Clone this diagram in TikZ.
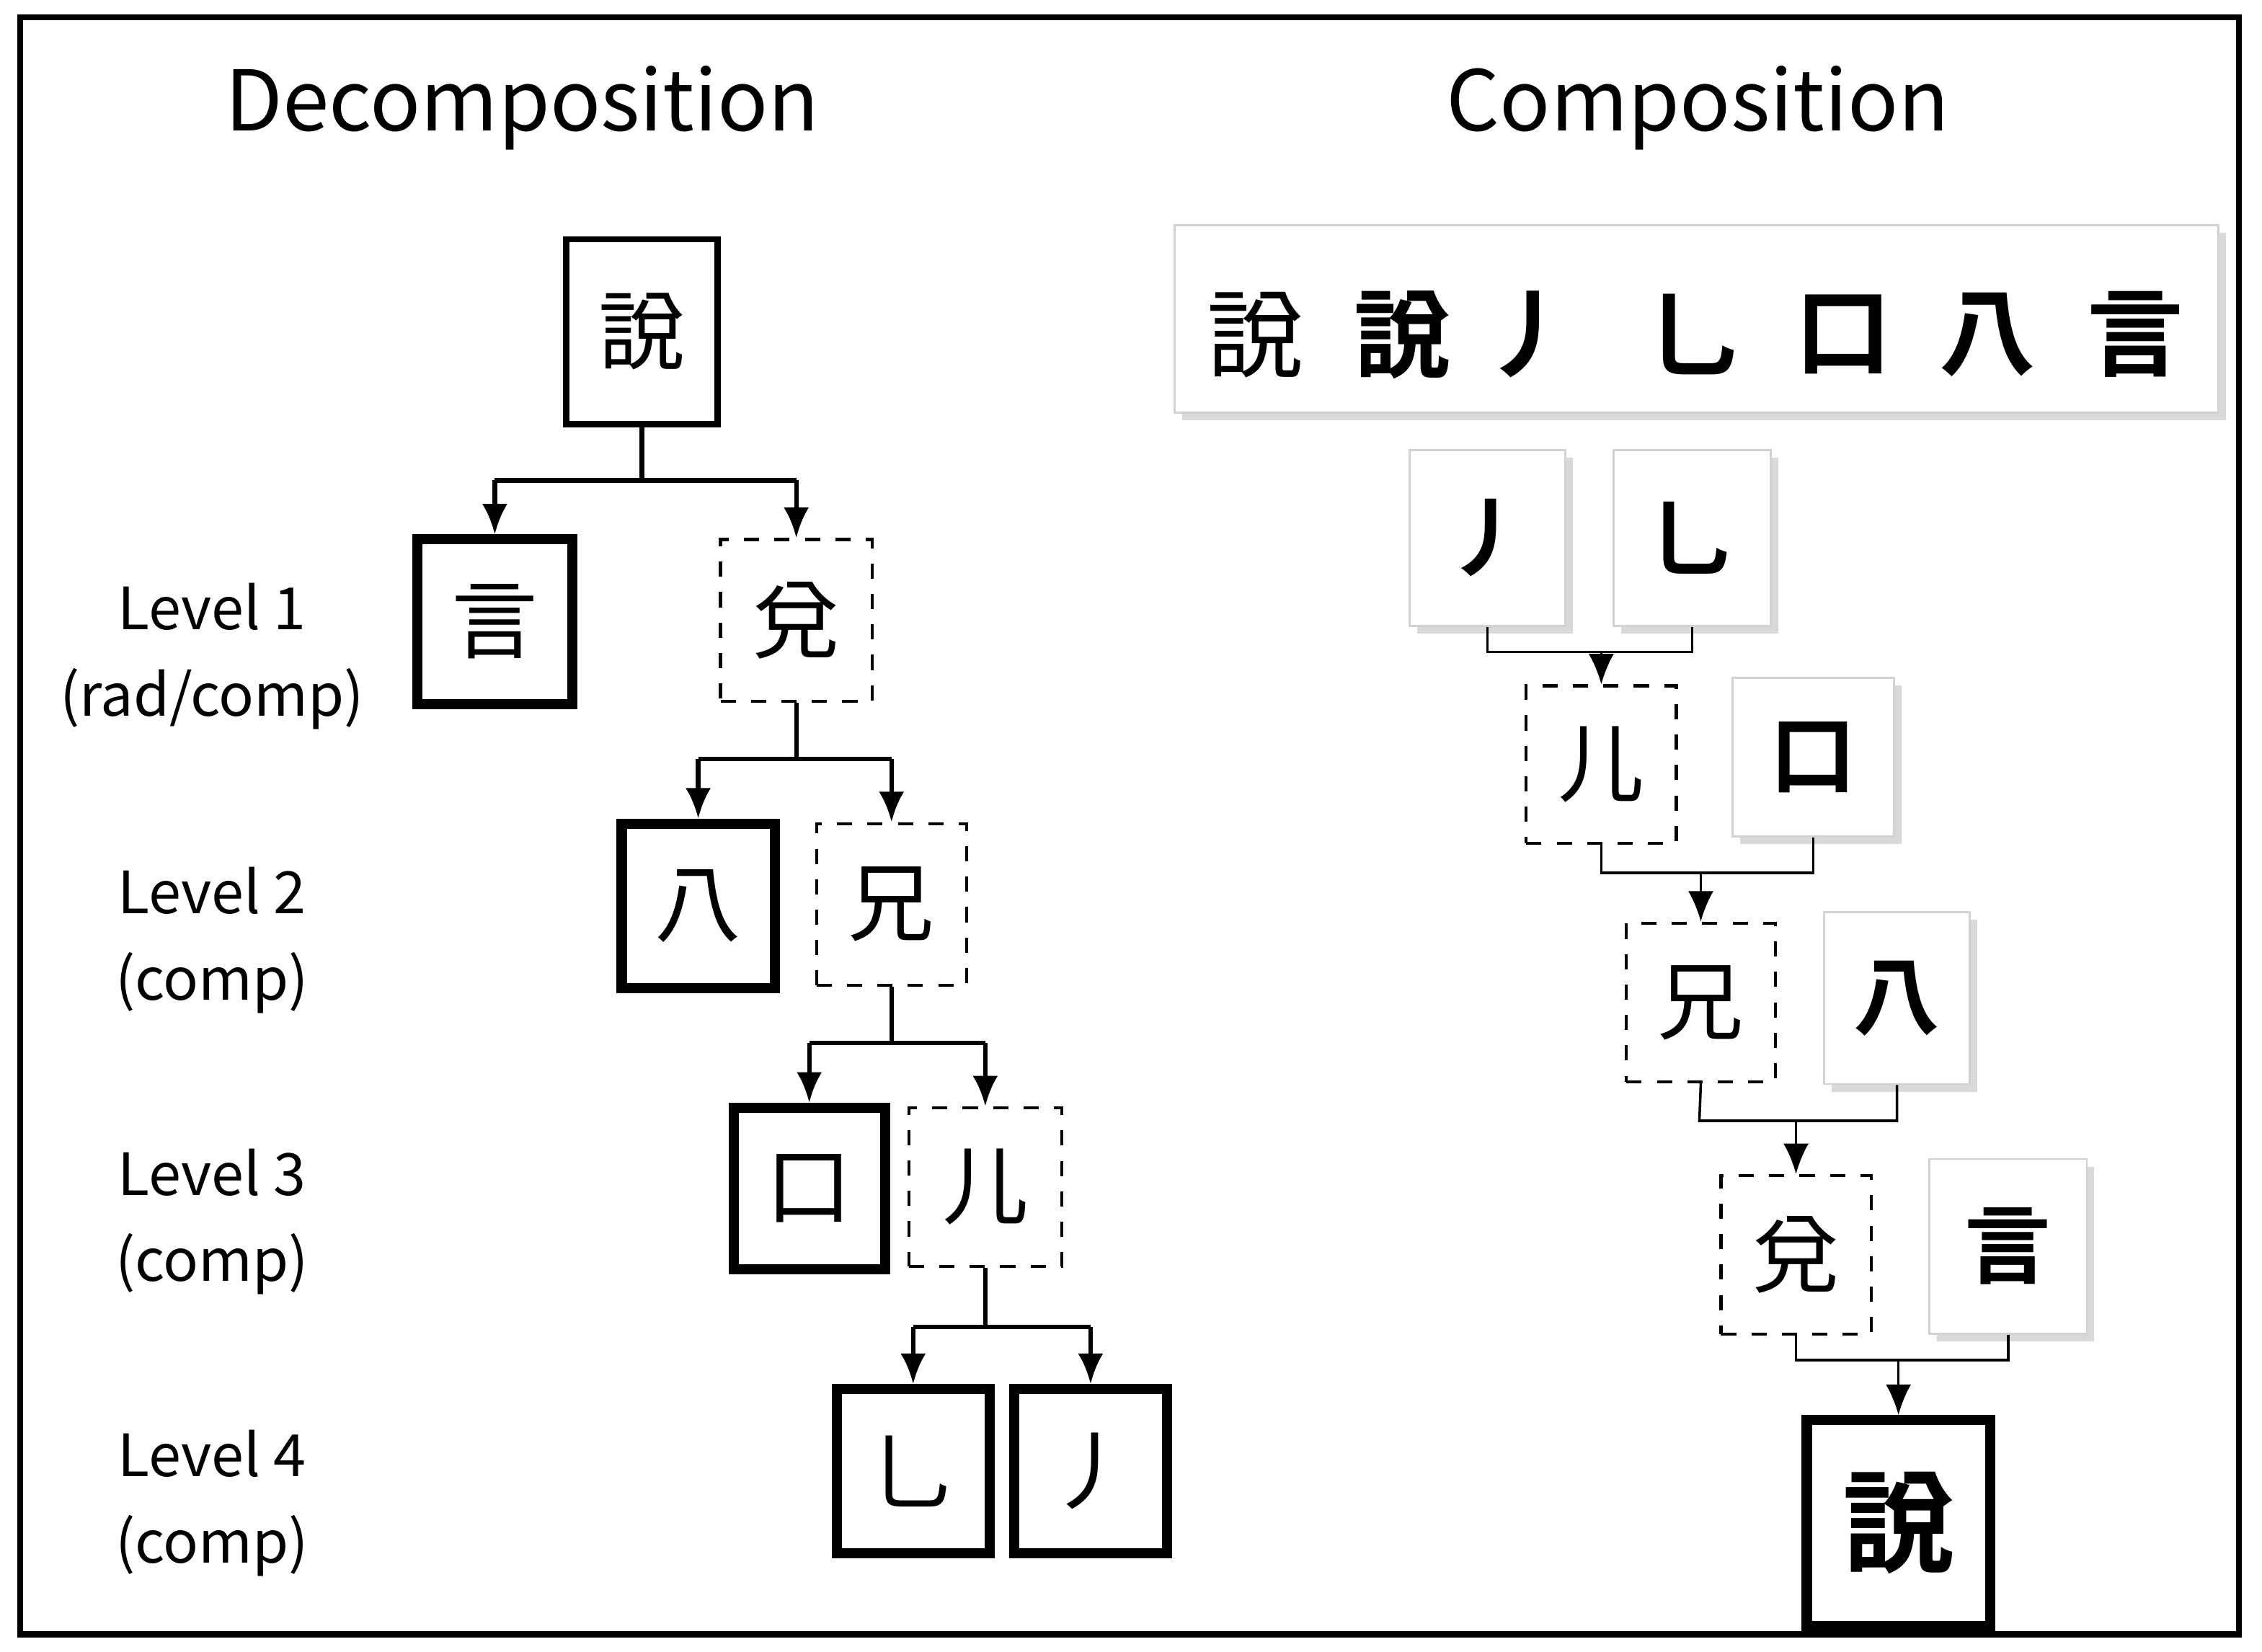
\documentclass[tikz,border=0pt]{standalone}
\usepackage{fontspec}
\setmainfont{Noto Sans CJK KR}
\newfontfamily\cjk{Noto Sans CJK KR}
\newfontfamily\cjkb{Noto Sans CJK KR Bold}
\usetikzlibrary{arrows.meta,shadows}
\begin{document}
\begin{tikzpicture}[x=0.01cm,y=0.01cm,
  base/.style={draw,fill=white,inner sep=0pt,font=\cjk\fontsize{17}{17}\selectfont},
  thickbox/.style={base,line width=2pt},
  medbox/.style={base,line width=1.2pt},
  dashbox/.style={base,dashed,line width=0.6pt},
  shbox/.style={base,draw=gray!35,line width=0.4pt,drop shadow={shadow xshift=1.5pt,shadow yshift=-1.5pt,opacity=0.3},font=\cjkb\fontsize{17}{17}\selectfont},
  conn/.style={line width=0.9pt},
  arr/.style={line width=0.9pt,-{Latex[length=6pt,width=5pt]}},
  thin/.style={line width=0.5pt},
  thinarr/.style={line width=0.5pt,-{Latex[length=6pt,width=5pt]}},
  lvl/.style={font=\fontsize{11.5}{14}\selectfont,align=center},
  ttl/.style={font=\fontsize{16.5}{18}\selectfont}]
\useasboundingbox (0,0) rectangle (1568,-1145);
\draw[line width=1.2pt] (14,-12) rectangle (1552,-1133);
\node[ttl] (t1) at (362,-75) {Decomposition};
\node[ttl] (t2) at (1177,-75) {Composition};
% decomposition
\node[medbox,minimum width=1.05cm,minimum height=1.28cm] (s) at (445,-230) {說};
\node[thickbox,minimum width=1.07cm,minimum height=1.14cm] (yan) at (343,-431) {言};
\node[dashbox,minimum width=1.05cm,minimum height=1.12cm] (dui) at (552,-430) {兌};
\node[thickbox,minimum width=1.06cm,minimum height=1.14cm] (ba) at (484,-628) {八};
\node[dashbox,minimum width=1.04cm,minimum height=1.12cm] (xiong) at (618,-627) {兄};
\node[thickbox,minimum width=1.05cm,minimum height=1.12cm] (kou) at (561,-824) {口};
\node[dashbox,minimum width=1.06cm,minimum height=1.10cm] (er) at (683,-823) {儿};
\node[thickbox,minimum width=1.06cm,minimum height=1.14cm] (yi) at (633,-1020) {乚};
\node[thickbox,minimum width=1.06cm,minimum height=1.14cm] (pie) at (756,-1020) {丿};
\coordinate (j1) at (445,-333);
\coordinate (j2) at (552,-526);
\coordinate (j3) at (618,-723);
\coordinate (j4) at (683,-920);
\draw[conn] (s.south) -- (j1);
\draw[conn] (j1 -| yan.north) -- (j1 -| dui.north);
\draw[arr] (j1 -| yan.north) -- (yan.north);
\draw[arr] (j1 -| dui.north) -- (dui.north);
\draw[conn] (dui.south) -- (j2);
\draw[conn] (j2 -| ba.north) -- (j2 -| xiong.north);
\draw[arr] (j2 -| ba.north) -- (ba.north);
\draw[arr] (j2 -| xiong.north) -- (xiong.north);
\draw[conn] (xiong.south) -- (j3);
\draw[conn] (j3 -| kou.north) -- (j3 -| er.north);
\draw[arr] (j3 -| kou.north) -- (kou.north);
\draw[arr] (j3 -| er.north) -- (er.north);
\draw[conn] (er.south) -- (j4);
\draw[conn] (j4 -| yi.north) -- (j4 -| pie.north);
\draw[arr] (j4 -| yi.north) -- (yi.north);
\draw[arr] (j4 -| pie.north) -- (pie.north);
\node[lvl] (l1) at (147,-455) {Level 1\\[3pt](rad/comp)};
\node[lvl] (l2) at (147,-652) {Level 2\\[3pt](comp)};
\node[lvl] (l3) at (147,-847) {Level 3\\[3pt](comp)};
\node[lvl] (l4) at (147,-1042) {Level 4\\[3pt](comp)};
% composition strip
\node[shbox,minimum width=7.23cm,minimum height=1.30cm] (strip) at (1176,-221) {};
\begin{scope}[every node/.style={font=\cjkb\fontsize{19}{19}\selectfont}]
\node[font=\cjk\fontsize{19}{19}\selectfont] (c1) at (870,-232) {說};
\node (c2) at (972,-232) {說};
\node (c3) at (1060,-232) {丿};
\node (c4) at (1175,-232) {乚};
\node (c5) at (1278,-232) {口};
\node (c6) at (1378,-232) {八};
\node (c7) at (1480,-232) {言};
\end{scope}
\node[shbox,minimum width=1.08cm,minimum height=1.22cm] (p1) at (1031,-373) {丿};
\node[shbox,minimum width=1.09cm,minimum height=1.22cm] (p2) at (1173,-373) {乚};
\node[dashbox,minimum width=1.04cm,minimum height=1.09cm] (q1) at (1110,-530) {儿};
\node[shbox,minimum width=1.12cm,minimum height=1.10cm] (q2) at (1257,-525) {口};
\node[dashbox,minimum width=1.03cm,minimum height=1.10cm] (r1) at (1179,-695) {兄};
\node[shbox,minimum width=1.01cm,minimum height=1.19cm] (r2) at (1315,-692) {八};
\node[dashbox,minimum width=1.04cm,minimum height=1.10cm] (u1) at (1245,-870) {兌};
\node[shbox,minimum width=1.09cm,minimum height=1.21cm] (u2) at (1392,-864) {言};
\node[thickbox,minimum width=1.27cm,minimum height=1.43cm,font=\cjkb\fontsize{22}{22}\selectfont] (fin) at (1316,-1056) {說};
\coordinate (k1) at (1031,-452);
\coordinate (k2) at (1110,-605);
\coordinate (k3) at (1178,-777);
\coordinate (k4) at (1245,-943);
\draw[thin] (p1.south) -- (k1) -- (k1 -| p2.south) -- (p2.south);
\draw[thinarr] (k1 -| q1.north) -- (q1.north);
\draw[thin] (q1.south) -- (k2) -- (k2 -| q2.south) -- (q2.south);
\draw[thinarr] (k2 -| r1.north) -- (r1.north);
\draw[thin] (r1.south) -- (k3) -- (k3 -| r2.south) -- (r2.south);
\draw[thinarr] (k3 -| u1.north) -- (u1.north);
\draw[thin] (u1.south) -- (k4) -- (k4 -| u2.south) -- (u2.south);
\draw[thinarr] (k4 -| fin.north) -- (fin.north);
\end{tikzpicture}
\end{document}
